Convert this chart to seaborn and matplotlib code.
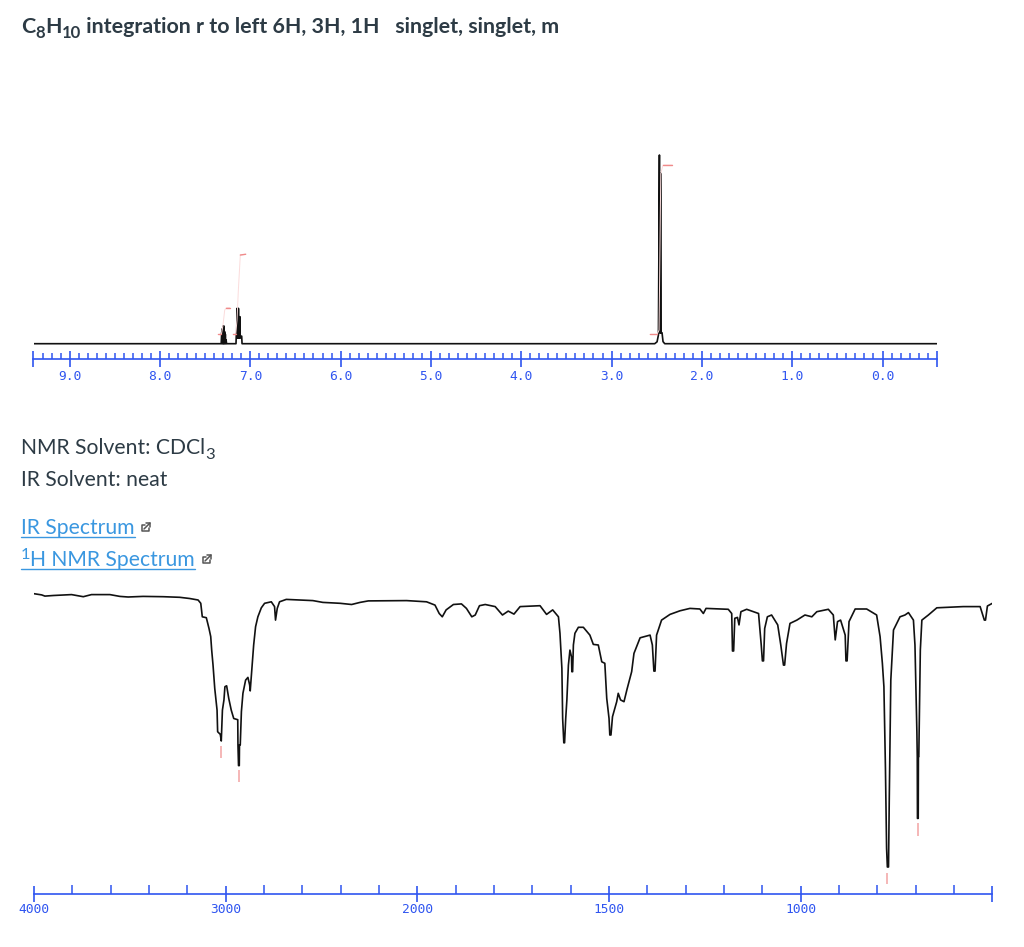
import numpy as np
import pandas as pd
import matplotlib
matplotlib.use("Agg")
import matplotlib.pyplot as plt
from matplotlib.ticker import FixedLocator, FixedFormatter
import seaborn as sns

# NMR trace (ppm / relative intensity)
nmr_ppm = [9.40, 7.322, 7.316, 7.312, 7.308, 7.304, 7.300, 7.296, 7.292, 7.288, 7.284, 7.280, 7.276, 7.272, 7.268, 7.262,
           7.158, 7.154, 7.150, 7.147, 7.143, 7.139, 7.135, 7.131, 7.127, 7.123, 7.119, 7.115, 7.111, 7.107, 7.102, 7.095, 7.091,
           2.522, 2.496, 2.481, 2.470, 2.467, 2.463, 2.460, 2.457, 2.454, 2.448, 2.441, 2.430, 2.411, -0.60]
nmr_int = [0, 0, 6, 0, 8, 0, 9.4, 0, 9.4, 0, 6.4, 0, 5, 0, 2, 0,
           0, 5.5, 5.5, 18.7, 3, 18.7, 3, 18.7, 3, 14.3, 3, 14.3, 3, 4, 4, 4, 0,
           0, 1.0, 4.6, 100, 5.8, 90.3, 5.8, 90.3, 5.8, 5.8, 5.8, 1.1, 0, 0]

# integration curves on the NMR panel
integ_ppm = [[7.357, 7.320, 7.302, 7.283, 7.265, 7.228],
             [7.191, 7.161, 7.147, 7.132, 7.110, 7.051],
             [2.577, 2.496, 2.474, 2.455, 2.430, 2.326]]
integ_val = [[4.9, 4.9, 9.9, 17.8, 19.1, 19.1],
             [4.9, 4.9, 12.5, 28.4, 47.0, 47.4],
             [4.9, 4.9, 7.2, 90.3, 94.7, 94.7]]

# IR trace (wavenumber / transmittance)
ir_wn = [4000, 3960, 3943, 3899, 3804, 3743, 3700, 3604, 3552, 3509, 3431, 3326, 3240, 3188, 3144,
         3130, 3122, 3101, 3087, 3078, 3073, 3066, 3057, 3045, 3042, 3028, 3023, 3017, 3009, 3004,
         2995, 2984, 2971, 2958, 2941, 2937, 2936, 2933, 2929, 2928, 2924, 2918, 2910, 2896, 2884, 2875, 2872, 2863,
         2854, 2844, 2832, 2814, 2797, 2762, 2745, 2740, 2731, 2719, 2684, 2545, 2493, 2403, 2343,
         2299, 2256, 2056, 1976, 1954, 1943, 1935, 1925, 1906, 1885, 1872, 1858, 1849, 1838, 1823,
         1797, 1778, 1763, 1748, 1732, 1680, 1663, 1647, 1632, 1628, 1623, 1621, 1618, 1616, 1613, 1610,
         1606, 1602, 1598, 1597, 1595, 1593, 1589, 1580, 1567, 1550, 1541, 1528, 1519, 1511, 1506, 1500,
         1498, 1495, 1491, 1480, 1476, 1470, 1461, 1453, 1441, 1435, 1419, 1393, 1387, 1383, 1380, 1376, 1363,
         1341, 1315, 1289, 1263, 1254, 1247, 1189, 1180, 1178, 1175, 1172, 1165, 1161, 1156, 1141, 1110,
         1103, 1100, 1097, 1094, 1087, 1076, 1060, 1052, 1045, 1042, 1037, 1028, 1010, 989, 971, 958, 928,
         915, 910, 904, 896, 884, 882, 879, 874, 858, 828, 802, 793, 787, 783, 779, 776,
         774, 771, 769, 765, 758, 741, 728, 719, 706, 702, 697, 696, 695.5, 693.5, 693, 692, 688, 684, 667,
         645, 576, 532, 521, 518, 513, 500]
ir_t = [100.0, 99.6, 99.2, 99.4, 99.7, 99.0, 99.7, 99.7, 99.1, 98.9, 99.1, 99.0, 98.8, 98.4, 97.9,
        96.8, 92.3, 92.0, 88.4, 85.7, 81.2, 76.2, 68.4, 61.2, 54.0, 53.1, 50.9, 61.2, 64.6, 69.0,
        69.3, 65.1, 61.2, 58.4, 58.1, 58.0, 49.8, 42.7, 42.7, 49.6, 49.6, 60.7, 66.8, 71.2, 72.1, 69.6, 67.6, 75.1,
        82.9, 89.0, 92.3, 95.3, 96.8, 97.3, 95.7, 91.2, 95.1, 97.3, 98.1, 97.7, 97.1, 96.8, 96.4,
        97.1, 97.6, 97.7, 97.3, 96.2, 93.4, 92.3, 94.6, 96.4, 96.6, 95.1, 92.3, 92.9, 96.0, 96.4,
        95.7, 92.9, 94.2, 93.2, 95.7, 96.0, 93.1, 94.6, 92.3, 86.8, 75.1, 58.4, 50.3, 50.3, 58.4, 64.6,
        76.2, 81.2, 79.0, 74.0, 74.0, 82.9, 86.8, 88.8, 88.8, 86.2, 83.1, 82.9, 77.3, 76.8, 65.1, 58.4,
        52.9, 52.9, 59.0, 64.0, 66.8, 64.6, 64.0, 68.2, 74.0, 80.1, 85.3, 86.2, 82.9, 74.2, 74.2, 86.2, 91.2,
        93.1, 94.3, 95.1, 94.9, 93.4, 95.1, 94.8, 93.4, 80.9, 80.9, 91.8, 92.1, 89.6, 94.0, 94.8, 93.4,
        82.9, 77.6, 77.6, 88.4, 92.3, 92.9, 89.6, 82.9, 76.2, 76.2, 83.4, 90.1, 91.2, 92.9, 92.3, 94.0, 94.8,
        92.9, 84.6, 90.7, 91.2, 86.2, 77.6, 77.6, 90.7, 94.9, 94.9, 92.9, 85.7, 76.8, 69.0, 41.8, 15.1,
        8.9, 8.9, 31.8, 71.2, 87.9, 92.3, 92.9, 93.7, 91.2, 82.9, 54.0, 45.7, 25.1, 25.1, 45.7, 45.7, 81.2, 91.2, 92.9,
        95.3, 95.7, 95.7, 91.2, 91.2, 95.9, 96.8]

# red peak markers under the IR trace
ir_mark_wn = [3023, 2931, 774, 694]
ir_mark_hi = [49.2, 41.2, 7.0, 23.5]
ir_mark_lo = [45.3, 37.3, 3.2, 19.3]

# axis ticks
nmr_major = [9.4, 9.0, 8.0, 7.0, 6.0, 5.0, 4.0, 3.0, 2.0, 1.0, 0.0, -0.6]
nmr_labels = ["", "9.0", "8.0", "7.0", "6.0", "5.0", "4.0", "3.0", "2.0", "1.0", "0.0", ""]
ir_major = [4000, 3000, 2000, 1500, 1000, 500]
ir_labels = ["4000", "3000", "2000", "1500", "1000", ""]
ir_minor = [3800, 3600, 3400, 3200, 2800, 2600, 2400, 2200, 1900, 1800, 1700, 1600,
            1400, 1300, 1200, 1100, 900, 800, 700, 600]

INK = "#2d3b45"
LINK = "#3a97e0"
AXIS_BLUE = "#2f55f0"
RED = "#f2a3a3"

sns.set_style("white")
plt.rcParams["font.family"] = ["Lato", "DejaVu Sans"]

fig = plt.figure(figsize=(10.24, 9.47), dpi=100)
W, H = 1024, 947


def px_axes(left, top, right, bottom):
    ax = fig.add_axes([left / W, 1 - bottom / H, (right - left) / W, (bottom - top) / H])
    ax.patch.set_alpha(0)
    sns.despine(ax=ax, left=True, top=True, right=True)
    ax.spines["bottom"].set_color(AXIS_BLUE)
    ax.spines["bottom"].set_linewidth(1.2)
    ax.set_yticks([])
    return ax


def style_ticks(ax, major, labels, minor, minor_len, pad):
    ax.xaxis.set_major_locator(FixedLocator(major))
    ax.xaxis.set_major_formatter(FixedFormatter(labels))
    ax.xaxis.set_minor_locator(FixedLocator(minor))
    ax.tick_params(axis="x", which="major", direction="inout", length=11.5, width=1.2,
                   color=AXIS_BLUE, labelcolor=AXIS_BLUE, pad=pad, bottom=True)
    ax.tick_params(axis="x", which="minor", direction="in", length=minor_len, width=1.1,
                   color=AXIS_BLUE, bottom=True)
    for lab in ax.get_xticklabels():
        lab.set_family("DejaVu Sans Mono")
        lab.set_fontsize(9.3)


# NMR panel
ax_nmr = px_axes(33.5, 145.6, 936.7, 359.3)
sns.lineplot(data=pd.DataFrame({"ppm": nmr_ppm, "i": nmr_int}), x="ppm", y="i", sort=False,
             estimator=None, color="#111111", linewidth=1.2, ax=ax_nmr)
for xs, ys in zip(integ_ppm, integ_val):
    ax_nmr.plot(xs, ys, color="#fbdcdc", lw=0.7)
    ax_nmr.plot(xs[:2], ys[:2], color="#f08a8a", lw=1.0)
    ax_nmr.plot(xs[-2:], ys[-2:], color="#f08a8a", lw=1.0)
ax_nmr.set_xlim(9.4, -0.6)
ax_nmr.set_ylim(-8.27, 105)
ax_nmr.set_xlabel("")
ax_nmr.set_ylabel("")
nmr_minor = [round(v, 1) for v in np.arange(-0.5, 9.4, 0.1)]
style_ticks(ax_nmr, nmr_major, nmr_labels, nmr_minor, 4.5, 2)

# IR panel, the wavenumber axis is stretched x2 below 2000
ax_ir = px_axes(34, 578.7, 992.4, 893.7)
sns.lineplot(data=pd.DataFrame({"wn": ir_wn, "t": ir_t}), x="wn", y="t", sort=False,
             estimator=None, color="#111111", linewidth=1.2, ax=ax_ir)
ax_ir.vlines(ir_mark_wn, ir_mark_lo, ir_mark_hi, color=RED, lw=1.1)
ax_ir.set_xscale("function", functions=(lambda w: np.where(np.asarray(w) >= 2000, np.asarray(w) - 2000.0, 2.0 * (np.asarray(w) - 2000.0)),
                                        lambda p: np.where(np.asarray(p) >= 0, np.asarray(p) + 2000.0, np.asarray(p) / 2.0 + 2000.0)))
ax_ir.set_xlim(4000, 500)
ax_ir.set_ylim(0, 105)
ax_ir.set_xlabel("")
ax_ir.set_ylabel("")
style_ticks(ax_ir, ir_major, ir_labels, ir_minor, 6.2, 1.2)

# text layer in pixel coordinates
ax_txt = fig.add_axes([0, 0, 1, 1])
ax_txt.set_xlim(0, W)
ax_txt.set_ylim(H, 0)
ax_txt.axis("off")
ax_txt.patch.set_alpha(0)
renderer = fig.canvas.get_renderer()


def put_runs(x, y, runs, size, color, weight="normal"):
    # runs: (text, kind), kind "n" normal, "sub" subscript, "sup" superscript
    for s, kind in runs:
        fs = size * 0.78 if kind != "n" else size
        dy = {"n": 0, "sub": 5, "sup": -7}[kind]
        t = ax_txt.text(x, y + dy, s, fontsize=fs, color=color, fontweight=weight,
                        va="baseline", ha="left")
        x = x + t.get_window_extent(renderer).width
    return x


def ext_icon(x, y):
    c = "#555555"
    ax_txt.plot([x + 3.5, x, x, x + 7, x + 7], [y + 1.5, y + 1.5, y + 8, y + 8, y + 5], color=c, lw=1.1)
    ax_txt.plot([x + 2.5, x + 8.5], [y + 6, y], color=c, lw=1.1)
    ax_txt.plot([x + 4.5, x + 8.5, x + 8.5], [y, y, y + 4], color=c, lw=1.1)


put_runs(21, 33, [("C", "n"), ("8", "sub"), ("H", "n"), ("10", "sub"),
                  (" integration r to left 6H, 3H, 1H   singlet, singlet, m", "n")],
         15.4, INK, weight="bold")
put_runs(21, 454, [("NMR Solvent: CDCl", "n"), ("3", "sub")], 15.2, INK)
put_runs(21, 486, [("IR Solvent: neat", "n")], 15.2, INK)

end1 = put_runs(21, 534, [("IR Spectrum", "n")], 15.2, LINK)
ax_txt.plot([21, end1], [536.6, 536.6], color=LINK, lw=1.0)
end2 = put_runs(21, 566, [("1", "sup"), ("H NMR Spectrum", "n")], 15.2, LINK)
ax_txt.plot([21, end2], [568.6, 568.6], color=LINK, lw=1.0)
ext_icon(141.5, 523)
ext_icon(202.5, 555)

fig.savefig("out.png", dpi=100)
